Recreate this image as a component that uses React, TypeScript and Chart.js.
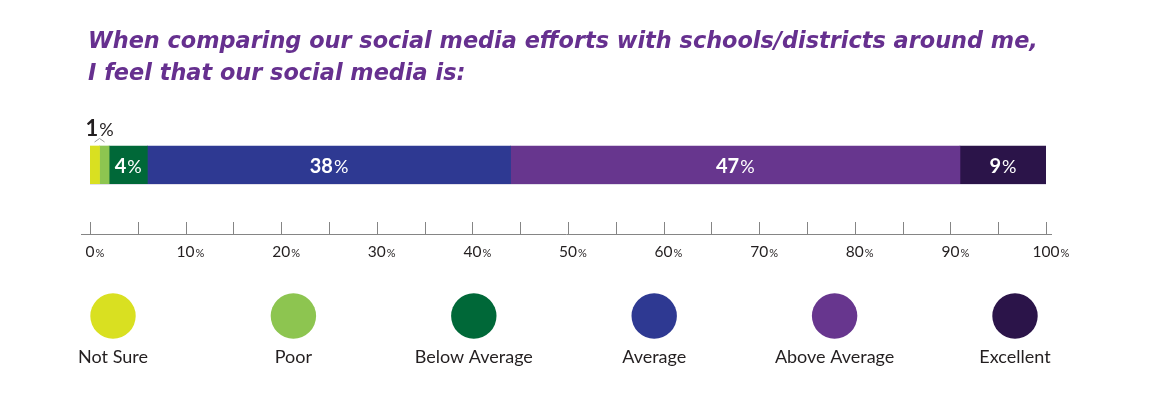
import React, { useEffect, useRef } from "react";
import { Chart, registerables } from "chart.js";

Chart.register(...registerables);

const titleLines = [
  "When comparing our social media efforts with schools/districts around me,",
  "I feel that our social media is:",
];
const categories = ["Not Sure", "Poor", "Below Average", "Average", "Above Average", "Excellent"];
const shares = [1, 1, 4, 38, 47, 9];
const palette = ["#d9e021", "#8dc550", "#006838", "#2e3992", "#67368e", "#2b1449"];
const axisTicks = [0, 5, 10, 15, 20, 25, 30, 35, 40, 45, 50, 55, 60, 65, 70, 75, 80, 85, 90, 95, 100];
const labelledTicks = [0, 10, 20, 30, 40, 50, 60, 70, 80, 90, 100];

const TEXT = "#231f20";
const PURPLE = "#66308f";

// number in one font followed by a "%" in another; anchor: "center" centres the pair, "number" centres the digits
function drawPercent(
  ctx: CanvasRenderingContext2D,
  value: number | string,
  x: number,
  baseline: number,
  numFont: string,
  pctFont: string,
  color: string,
  anchor: "center" | "number"
) {
  const num = String(value);
  ctx.save();
  ctx.fillStyle = color;
  ctx.textBaseline = "alphabetic";
  ctx.textAlign = "left";
  ctx.font = numFont;
  const nw = ctx.measureText(num).width;
  ctx.font = pctFont;
  const pw = ctx.measureText("%").width;
  const left = anchor === "center" ? x - (nw + pw + 1) / 2 : x - nw / 2;
  ctx.font = numFont;
  ctx.fillText(num, left, baseline);
  ctx.font = pctFont;
  ctx.fillText("%", left + nw + 1, baseline);
  ctx.restore();
}

const decorations = {
  id: "surveyDecorations",
  afterDatasetsDraw(chart: any) {
    const ctx: CanvasRenderingContext2D = chart.ctx;
    const x = chart.scales.x;

    // faint shadow line under the bar
    const first = chart.getDatasetMeta(0).data[0];
    const barBottom = first.y + first.height / 2;
    ctx.save();
    ctx.strokeStyle = "#e2dfea";
    ctx.lineWidth = 1;
    ctx.beginPath();
    ctx.moveTo(x.getPixelForValue(0), Math.round(barBottom) + 0.5);
    ctx.lineTo(x.getPixelForValue(100), Math.round(barBottom) + 0.5);
    ctx.stroke();
    ctx.restore();

    // values inside the wider segments
    shares.forEach((v, i) => {
      if (v < 3) return;
      const el = chart.getDatasetMeta(i).data[0];
      const cx = (el.x + el.base) / 2;
      drawPercent(ctx, v, cx, el.y + 8, 'bold 20px "Lato"', '18px "Lato"', "#ffffff", "center");
    });

    // call-out above the two thin segments
    const small = shares.map((v, i) => i).filter((i) => shares[i] < 3);
    if (small.length) {
      const start = shares.slice(0, small[0]).reduce((a, b) => a + b, 0);
      const span = small.reduce((a, i) => a + shares[i], 0);
      const cx = x.getPixelForValue(start + span / 2);
      const el = chart.getDatasetMeta(small[0]).data[0];
      const top = el.y - el.height / 2;
      drawPercent(ctx, shares[small[0]], cx, top - 10, 'bold 22px "Lato"', '18px "Lato"', TEXT, "center");
      ctx.save();
      ctx.strokeStyle = "#9a9a9a";
      ctx.lineWidth = 1;
      ctx.beginPath();
      ctx.moveTo(cx - 5, top - 4);
      ctx.lineTo(cx, top - 7.5);
      ctx.lineTo(cx + 5, top - 4);
      ctx.stroke();
      ctx.restore();
    }
  },
  afterDraw(chart: any) {
    const ctx: CanvasRenderingContext2D = chart.ctx;
    const x = chart.scales.x;
    const area = chart.chartArea;

    // title
    ctx.save();
    ctx.fillStyle = PURPLE;
    ctx.font = 'italic bold 22.4px "DejaVu Sans"';
    ctx.textAlign = "left";
    ctx.textBaseline = "alphabetic";
    ctx.fillText(titleLines[0], 88, 48);
    ctx.fillText(titleLines[1], 88, 80);
    ctx.restore();

    // percentage axis below the bar
    const axisY = area.bottom + 34.5;
    ctx.save();
    ctx.strokeStyle = "#858585";
    ctx.lineWidth = 1;
    ctx.beginPath();
    ctx.moveTo(x.getPixelForValue(0) - 9, axisY);
    ctx.lineTo(x.getPixelForValue(100) + 6, axisY);
    axisTicks.forEach((t) => {
      const px = Math.round(x.getPixelForValue(t)) + 0.5;
      ctx.moveTo(px, axisY - 12.5);
      ctx.lineTo(px, axisY);
    });
    ctx.stroke();
    ctx.restore();
    labelledTicks.forEach((t) => {
      drawPercent(ctx, t, x.getPixelForValue(t), axisY + 22.5, '15.5px "Lato"', '11px "Lato"', TEXT, "number");
    });

    // legend: a dot above each category name
    const legendLeft = 113;
    const legendStep = 180.4;
    const dotY = 316;
    categories.forEach((name, i) => {
      const cx = legendLeft + i * legendStep;
      ctx.save();
      ctx.fillStyle = palette[i];
      ctx.beginPath();
      ctx.arc(cx, dotY, 22.7, 0, Math.PI * 2);
      ctx.fill();
      ctx.fillStyle = TEXT;
      ctx.font = '18px "Lato"';
      ctx.textAlign = "center";
      ctx.textBaseline = "alphabetic";
      ctx.fillText(name, cx, dotY + 47);
      ctx.restore();
    });
  },
};

export default function App() {
  const canvasRef = useRef<HTMLCanvasElement | null>(null);

  useEffect(() => {
    if (!canvasRef.current) return;
    const chart = new Chart(canvasRef.current, {
      type: "bar",
      data: {
        labels: [""],
        datasets: categories.map((name, i) => ({
          label: name,
          data: [shares[i]],
          backgroundColor: palette[i],
          borderWidth: 0,
          barThickness: 38,
        })),
      },
      options: {
        indexAxis: "y",
        animation: false,
        responsive: false,
        layout: { padding: { left: 90, right: 107, top: 130, bottom: 217 } },
        scales: {
          x: { stacked: true, min: 0, max: 100, display: false },
          y: { stacked: true, display: false },
        },
        plugins: {
          legend: { display: false },
          tooltip: { enabled: false },
          title: { display: false },
        },
      },
      plugins: [decorations],
    });
    return () => chart.destroy();
  }, []);

  return (
    <div style={{ position: "absolute", left: 0, top: 0, width: 1153, height: 417, background: "#ffffff" }}>
      <canvas ref={canvasRef} width={1153} height={417} />
    </div>
  );
}
